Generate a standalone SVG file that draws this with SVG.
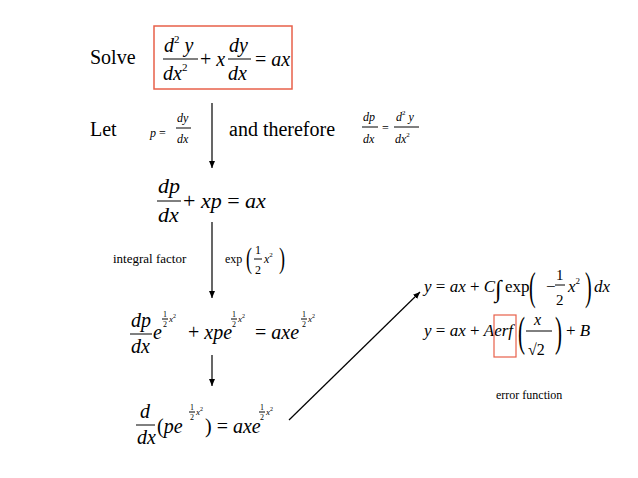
<svg xmlns="http://www.w3.org/2000/svg" width="638" height="478" viewBox="0 0 638 478">
<style>
text{font-family:"Liberation Serif","DejaVu Serif","Noto Serif",serif;fill:#000}
.m{font-style:italic}
.bar{stroke:#000;stroke-width:1}
.arr{stroke:#000;stroke-width:1.2;fill:none;marker-end:url(#ah)}
</style>
<defs><marker id="ah" markerWidth="8" markerHeight="8" refX="7" refY="4" orient="auto" markerUnits="userSpaceOnUse"><path d="M0,1 L7,4 L0,7 z" fill="#000"/></marker></defs>
<rect width="638" height="478" fill="#fff"/>
<g id="connectors">
<line class="arr" x1="212" y1="103" x2="212" y2="168"/>
<line class="arr" x1="212" y1="222" x2="212" y2="298"/>
<line class="arr" x1="212" y1="355" x2="212" y2="386"/>
<line class="arr" x1="289" y1="420" x2="420" y2="292"/>
</g>
<g id="solve">
<text x="90" y="64" font-size="20">Solve</text>
<rect x="154" y="26" width="138" height="63" fill="none" stroke="#e8604a" stroke-width="1.5"/>
<text class="m" x="164" y="52" font-size="20">d<tspan font-size="11" dy="-9" font-style="normal">2</tspan><tspan dy="9"> y</tspan></text>
<line class="bar" x1="163" y1="59" x2="198" y2="59"/>
<text class="m" x="163" y="80" font-size="20">dx<tspan font-size="11" dy="-9" font-style="normal">2</tspan></text>
<text x="200" y="66" font-size="20">+<tspan class="m"> x</tspan></text>
<text class="m" x="229" y="52" font-size="20">dy</text>
<line class="bar" x1="228" y1="59" x2="251" y2="59"/>
<text class="m" x="228" y="80" font-size="20">dx</text>
<text x="255" y="66" font-size="20">= <tspan class="m">ax</tspan></text>
</g>
<g id="let">
<text x="90" y="136" font-size="20">Let</text>
<text x="150" y="137" font-size="12"><tspan class="m">p</tspan> =</text>
<text class="m" x="177" y="122" font-size="12">dy</text>
<line class="bar" x1="176" y1="128" x2="191" y2="128"/>
<text class="m" x="177" y="143" font-size="12">dx</text>
<text x="229" y="136" font-size="20">and therefore</text>
<text class="m" x="363" y="121" font-size="12">dp</text>
<line class="bar" x1="362" y1="127" x2="378" y2="127"/>
<text class="m" x="363" y="143" font-size="12">dx</text>
<text x="382" y="132" font-size="12">=</text>
<text class="m" x="396" y="121" font-size="12">d<tspan font-size="7" dy="-6" font-style="normal">2</tspan><tspan dy="6"> y</tspan></text>
<line class="bar" x1="394" y1="127" x2="419" y2="127"/>
<text class="m" x="395" y="143" font-size="12">dx<tspan font-size="7" dy="-6" font-style="normal">2</tspan></text>
</g>
<g id="eq2">
<text class="m" x="158" y="193" font-size="22">dp</text>
<line class="bar" x1="157" y1="201" x2="181" y2="201"/>
<text class="m" x="158" y="222" font-size="22">dx</text>
<text x="183" y="208" font-size="22">+ <tspan class="m">xp</tspan> = <tspan class="m">ax</tspan></text>
</g>
<g id="factor">
<text x="113" y="263" font-size="13">integral factor</text>
<text x="225" y="263" font-size="12">exp</text>
<text x="0" y="268" font-size="30" transform="translate(246,0) scale(0.6,1)">(</text>
<text x="255" y="254" font-size="12">1</text>
<line class="bar" x1="254" y1="259" x2="262" y2="259"/>
<text x="255" y="274" font-size="12">2</text>
<text class="m" x="264" y="263" font-size="12">x<tspan font-size="7" dy="-6" font-style="normal">2</tspan></text>
<text x="0" y="268" font-size="30" transform="translate(279,0) scale(0.6,1)">)</text>
</g>
<g id="eq3">
<text class="m" x="131" y="327" font-size="20">dp</text>
<line class="bar" x1="130" y1="334" x2="152" y2="334"/>
<text class="m" x="131" y="353" font-size="20">dx</text>
<text class="m" x="153" y="339" font-size="20">e</text>
<text x="163" y="317" font-size="8">1</text><line class="bar" x1="162" y1="319" x2="168" y2="319" stroke-width="0.6"/><text x="163" y="327" font-size="8">2</text>
<text class="m" x="169" y="322" font-size="9">x<tspan font-size="6" dy="-4" font-style="normal">2</tspan></text>
<text x="188" y="339" font-size="20">+ <tspan class="m">xpe</tspan></text>
<text x="232" y="317" font-size="8">1</text><line class="bar" x1="231" y1="319" x2="237" y2="319" stroke-width="0.6"/><text x="232" y="327" font-size="8">2</text>
<text class="m" x="238" y="322" font-size="9">x<tspan font-size="6" dy="-4" font-style="normal">2</tspan></text>
<text x="255" y="339" font-size="20">= <tspan class="m">axe</tspan></text>
<text x="302" y="317" font-size="8">1</text><line class="bar" x1="301" y1="319" x2="307" y2="319" stroke-width="0.6"/><text x="302" y="327" font-size="8">2</text>
<text class="m" x="308" y="322" font-size="9">x<tspan font-size="6" dy="-4" font-style="normal">2</tspan></text>
</g>
<g id="eq4">
<text class="m" x="140" y="418" font-size="20">d</text>
<line class="bar" x1="136" y1="425" x2="155" y2="425"/>
<text class="m" x="137" y="444" font-size="20">dx</text>
<text x="157" y="433" font-size="20">(<tspan class="m">pe</tspan></text>
<text x="190" y="410" font-size="8">1</text><line class="bar" x1="189" y1="412" x2="195" y2="412" stroke-width="0.6"/><text x="190" y="420" font-size="8">2</text>
<text class="m" x="196" y="415" font-size="9">x<tspan font-size="6" dy="-4" font-style="normal">2</tspan></text>
<text x="205" y="433" font-size="20">) = <tspan class="m">axe</tspan></text>
<text x="260" y="410" font-size="8">1</text><line class="bar" x1="259" y1="412" x2="265" y2="412" stroke-width="0.6"/><text x="260" y="420" font-size="8">2</text>
<text class="m" x="266" y="415" font-size="9">x<tspan font-size="6" dy="-4" font-style="normal">2</tspan></text>
</g>
<g id="sol1">
<text x="424" y="292" font-size="17"><tspan class="m">y</tspan> = <tspan class="m">ax</tspan> + <tspan class="m">C</tspan></text>
<text x="495" y="297" font-size="24" class="m">∫</text>
<text x="505" y="292" font-size="17">exp</text>
<text x="0" y="300" font-size="40" transform="translate(529,0) scale(0.5,1)">(</text>
<text x="546" y="292" font-size="17">−</text>
<text x="556" y="280" font-size="15">1</text>
<line class="bar" x1="555" y1="285" x2="565" y2="285"/>
<text x="556" y="305" font-size="15">2</text>
<text class="m" x="568" y="292" font-size="17">x<tspan font-size="9" dy="-8" font-style="normal">2</tspan></text>
<text x="0" y="300" font-size="40" transform="translate(585,0) scale(0.5,1)">)</text>
<text class="m" x="594" y="292" font-size="17">dx</text>
</g>
<g id="sol2">
<text x="424" y="336" font-size="17"><tspan class="m">y</tspan> = <tspan class="m">ax</tspan> + <tspan class="m">Aerf</tspan></text>
<rect x="494" y="315" width="22" height="42" fill="none" stroke="#e8604a" stroke-width="1.2"/>
<text x="0" y="346" font-size="42" transform="translate(518,0) scale(0.5,1)">(</text>
<text class="m" x="534" y="325" font-size="16">x</text>
<line class="bar" x1="526" y1="331" x2="552" y2="331"/>
<text x="528" y="355" font-size="16">√2</text>
<text x="0" y="346" font-size="42" transform="translate(555,0) scale(0.5,1)">)</text>
<text x="566" y="336" font-size="17">+ <tspan class="m">B</tspan></text>
</g>
<text x="496" y="399" font-size="12">error function</text>
</svg>
